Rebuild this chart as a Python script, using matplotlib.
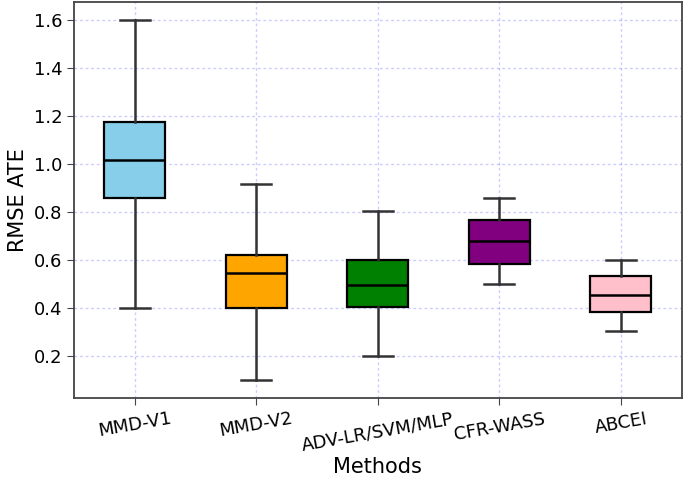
import matplotlib
matplotlib.use("Agg")
import matplotlib.pyplot as plt

methods = ["MMD-V1", "MMD-V2", "ADV-LR/SVM/MLP", "CFR-WASS", "ABCEI"]
whislo = [0.40, 0.10, 0.20, 0.50, 0.305]
q1 = [0.858, 0.398, 0.405, 0.585, 0.383]
med = [1.017, 0.546, 0.494, 0.677, 0.452]
q3 = [1.173, 0.622, 0.599, 0.765, 0.534]
whishi = [1.60, 0.916, 0.802, 0.856, 0.600]
colors = ["skyblue", "orange", "green", "purple", "pink"]

stats = []
for i in range(len(methods)):
    stats.append({"label": methods[i], "whislo": whislo[i], "q1": q1[i],
                  "med": med[i], "q3": q3[i], "whishi": whishi[i], "fliers": []})

fig = plt.figure(figsize=(6.85, 4.8), dpi=100)
ax = fig.add_axes([0.108, 0.171, 0.887, 0.825])

bp = ax.bxp(stats, widths=0.5, patch_artist=True, showfliers=False,
            boxprops=dict(linewidth=1.6, edgecolor="black"),
            whiskerprops=dict(linewidth=1.8, color="#333333"),
            capprops=dict(linewidth=1.8, color="#333333"),
            medianprops=dict(linewidth=1.8, color="black"))
for patch, c in zip(bp["boxes"], colors):
    patch.set_facecolor(c)

ax.set_ylim(0.025, 1.675)
ax.set_xlim(0.5, 5.5)
ax.grid(True, color="blue", alpha=0.2, linestyle=(0, (2, 2)), linewidth=1)
ax.set_axisbelow(True)
for s in ax.spines.values():
    s.set_color("#444444")
    s.set_linewidth(1.3)

ax.tick_params(axis="both", labelsize=13, color="#444444", length=5)
plt.setp(ax.get_xticklabels(), rotation=10)
ax.set_ylabel("RMSE ATE", fontsize=15)
ax.set_xlabel("Methods", fontsize=15, labelpad=2)

fig.savefig("out.png", dpi=100)
